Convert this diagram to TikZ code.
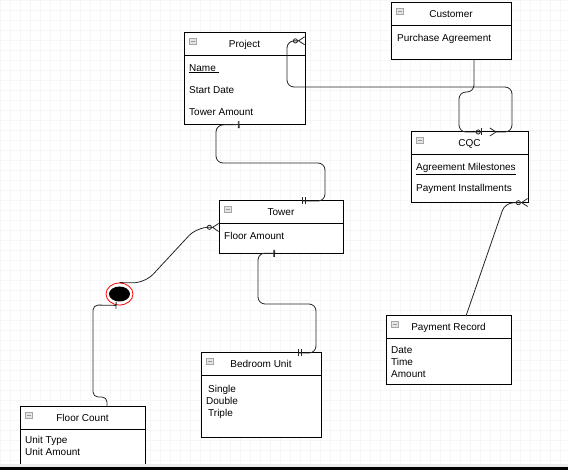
\documentclass[tikz,border=0pt]{standalone}
\usepackage{fontspec}
\setmainfont{Liberation Sans}
\usetikzlibrary{positioning, arrows.meta, shapes.geometric}

\begin{document}
\begin{tikzpicture}[x=1pt, y=-1pt,
    entitytitle/.style={rectangle, draw, line width=1pt, fill=white, anchor=north west, inner sep=0pt, outer sep=0pt, minimum height=22.5pt, text height=7pt, text depth=0pt, font=\fontsize{10}{12}\selectfont},
    entitybody/.style={rectangle, draw, line width=1pt, fill=white, inner sep=0pt, outer sep=0pt},
    attrtext/.style={anchor=north west, inner sep=0pt, align=left, font=\fontsize{10}{12}\selectfont},
    iconbox/.style={draw=gray!70, fill=gray!20, line width=0.5pt},
    gridline/.style={draw=gray!7, line width=0.4pt, step=10pt},
    relline/.style={draw=black!85, line width=0.8pt, rounded corners=7pt},
    onetoone/.style={arrows={{Bar[width=7pt,sep=2pt]Bar[width=7pt]}-{Bar[width=7pt,sep=2pt]Bar[width=7pt]}}},
    manyend/.style={arrows={-{Circle[open,length=5pt]Straight Barb[reversed,length=6pt,width=8pt]}}},
    manytomany/.style={arrows={{Straight Barb[reversed,length=6pt,width=8pt]Circle[open,length=5pt]}-{Straight Barb[reversed,length=6pt,width=8pt]}}},
    zerooneend/.style={arrows={-{Circle[open,length=5pt]Bar[width=7pt]}}},
    onestart/.style={arrows={{Bar[width=7pt]}-}}
  ]
  \fill[white] (0,0) rectangle (568,470);
  \useasboundingbox (0,0) rectangle (568,470);
  \draw[gridline] (0,0) grid (568,464);

  \node[entitytitle, minimum width=121pt] (projTitle) at (184, 33) {Project};
  \node[entitybody, minimum width=121pt, minimum height=69pt] (projBody) [below=0pt of projTitle] {};
  \node[attrtext] (projAttr) at ([shift={(5pt,-8.5pt)}]projBody.north west) {\underline{Name\ }\\[10pt]Start Date\\[10pt]Tower Amount};

  \node[entitytitle, minimum width=120pt] (custTitle) at (391, 3) {Customer};
  \node[entitybody, minimum width=120pt, minimum height=34pt] (custBody) [below=0pt of custTitle] {};
  \node[attrtext] (custAttr) at ([shift={(6pt,-8.5pt)}]custBody.north west) {Purchase Agreement};

  \node[entitytitle, minimum width=117pt] (cqcTitle) at (411, 132) {CQC};
  \node[entitybody, minimum width=117pt, minimum height=48pt] (cqcBody) [below=0pt of cqcTitle] {};
  \node[attrtext] (cqcAttr) at ([shift={(5pt,-8.5pt)}]cqcBody.north west) {\underline{Agreement Milestones}\\[9.5pt]Payment Installments};

  \node[entitytitle, minimum width=124pt] (towerTitle) at (219, 201) {Tower};
  \node[entitybody, minimum width=124pt, minimum height=30pt] (towerBody) [below=0pt of towerTitle] {};
  \node[attrtext] (towerAttr) at ([shift={(5pt,-9pt)}]towerBody.north west) {Floor Amount};

  \node[entitytitle, minimum width=120pt] (bedTitle) at (201, 353) {Bedroom Unit};
  \node[entitybody, minimum width=120pt, minimum height=62pt] (bedBody) [below=0pt of bedTitle] {};
  \node[attrtext] (bedAttr) at ([shift={(5pt,-9.5pt)}]bedBody.north west) {\hspace*{2pt}Single\\Double\\\hspace*{2pt}Triple};

  \node[entitytitle, minimum width=125pt] (floorTitle) at (20, 407) {Floor Count};
  \node[entitybody, minimum width=125pt, minimum height=40pt] (floorBody) [below=0pt of floorTitle] {};
  \node[attrtext] (floorAttr) at ([shift={(5pt,-7pt)}]floorBody.north west) {Unit Type\\Unit Amount};

  \node[entitytitle, minimum width=125pt] (payTitle) at (386, 316) {Payment Record};
  \node[entitybody, minimum width=125pt, minimum height=46pt] (payBody) [below=0pt of payTitle] {};
  \node[attrtext] (payAttr) at ([shift={(5pt,-8pt)}]payBody.north west) {Date\\Time\\Amount};

  \foreach \t in {projTitle, custTitle, cqcTitle, towerTitle, bedTitle, floorTitle, payTitle} {
    \draw[iconbox] ([shift={(5pt,-5pt)}]\t.north west) rectangle ++(7pt,-6pt);
    \draw[gray!80, line width=0.6pt] ([shift={(6.5pt,-8pt)}]\t.north west) -- ++(4pt,0pt);
  }

  \node[ellipse, draw=red, line width=0.8pt, fill=white, minimum width=27pt, minimum height=22pt, inner sep=0pt] (splitRing) at (119.5, 294) {};
  \node[ellipse, fill=black, minimum width=21pt, minimum height=15pt, inner sep=0pt] (splitDot) at (splitRing.center) {};

  \draw[relline, onetoone] ([xshift=-3pt]projBody.south) -- (216,125) -- (216,163) -- (325,163) -- (325,201) -- ([xshift=21pt]towerTitle.north);
  \draw[relline, onetoone] ([xshift=-4pt]towerBody.south) -- (258,253) -- (258,304) -- (316,304) -- (316,353) -- ([xshift=37pt]bedTitle.north);
  \draw[relline, manyend, rounded corners=12pt] (splitRing.north) -- (145,283) -- (197,227) -- ([yshift=-4pt]towerBody.north west);
  \draw[relline, onestart, rounded corners=5pt] ([xshift=-3pt]splitRing.south) -- (93,305) -- (93,397) -- (107,397) -- ([xshift=24.5pt]floorTitle.north);
  \draw[relline, manytomany] ([yshift=3.5pt]projTitle.east) -- (287,41) -- (287,87) -- (512,87) -- (512,132) -- ([xshift=20pt]cqcTitle.north);
  \draw[relline, zerooneend] ([xshift=23pt]custBody.south) -- (474,92) -- (459,92) -- (459,132) -- ([xshift=12pt]cqcTitle.north);
  \draw[relline, manyend, rounded corners=8pt] ([xshift=17.5pt]payTitle.north) -- (505,203) -- (cqcBody.south east);

  \fill[gray!15] (0,464) rectangle (568,467);
  \fill[black] (0,467) rectangle (568,470);
\end{tikzpicture}
\end{document}
